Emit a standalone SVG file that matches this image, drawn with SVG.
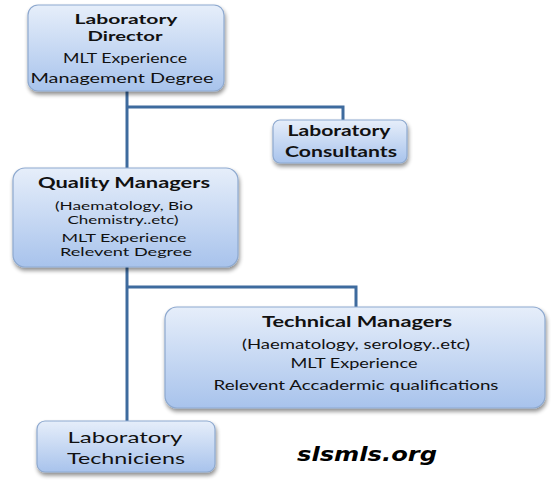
<svg xmlns="http://www.w3.org/2000/svg" width="557" height="482" viewBox="0 0 557 482">
<defs>
<linearGradient id="g" x1="0" y1="0" x2="0" y2="1">
<stop offset="0" stop-color="#e6eefa"/>
<stop offset="1" stop-color="#a8c3ec"/>
</linearGradient>
<filter id="sh" x="-10%" y="-10%" width="130%" height="140%">
<feGaussianBlur in="SourceAlpha" stdDeviation="2"/>
<feOffset dx="1" dy="3"/>
<feComponentTransfer><feFuncA type="linear" slope="0.45"/></feComponentTransfer>
<feMerge><feMergeNode/><feMergeNode in="SourceGraphic"/></feMerge>
</filter>
</defs>
<style>
.box{fill:url(#g);stroke:#8ea9cf;stroke-width:1.2;filter:url(#sh)}
.t{font-family:Lato,"Open Sans",sans-serif;fill:#111;text-anchor:middle}
.b{font-weight:bold;font-size:15px}
.n{font-size:13px}
.s{font-size:11.5px}
.c{stroke:#3e6b9e;stroke-width:3;fill:none}
</style>
<rect width="557" height="482" fill="#ffffff"/>
<g id="connectors">
<path class="c" d="M127 90 V170"/>
<path class="c" d="M127 107 H343 V121"/>
<path class="c" d="M127 267 V421"/>
<path class="c" d="M127 287 H356 V307"/>
</g>
<g id="director">
<rect class="box" x="28" y="5" width="196" height="86" rx="10"/>
<text class="t b" x="126" y="24" style="font-size:14px" textLength="103" lengthAdjust="spacingAndGlyphs">Laboratory</text>
<text class="t b" x="125" y="41" style="font-size:14px" textLength="75" lengthAdjust="spacingAndGlyphs">Director</text>
<text class="t n" x="125" y="63" textLength="124" lengthAdjust="spacingAndGlyphs">MLT Experience</text>
<text class="t n" x="122" y="83" textLength="183" lengthAdjust="spacingAndGlyphs">Management Degree</text>
</g>
<g id="consultants">
<rect class="box" x="273" y="120" width="134" height="43" rx="7"/>
<text class="t b" x="339" y="136" textLength="103" lengthAdjust="spacingAndGlyphs">Laboratory</text>
<text class="t b" x="341" y="157" textLength="112" lengthAdjust="spacingAndGlyphs">Consultants</text>
</g>
<g id="quality">
<rect class="box" x="13" y="168" width="225" height="99" rx="12"/>
<text class="t b" x="124" y="188" textLength="172" lengthAdjust="spacingAndGlyphs">Quality Managers</text>
<text class="t s" x="124" y="210" textLength="138" lengthAdjust="spacingAndGlyphs">(Haematology, Bio</text>
<text class="t s" x="123" y="224" textLength="111" lengthAdjust="spacingAndGlyphs">Chemistry..etc)</text>
<text class="t s" x="124" y="242" textLength="125" lengthAdjust="spacingAndGlyphs">MLT Experience</text>
<text class="t s" x="126" y="256" textLength="132" lengthAdjust="spacingAndGlyphs">Relevent Degree</text>
</g>
<g id="technical">
<rect class="box" x="165" y="307" width="380" height="101" rx="12"/>
<text class="t b" x="357" y="327" textLength="190" lengthAdjust="spacingAndGlyphs">Technical Managers</text>
<text class="t n" x="356" y="349" textLength="228" lengthAdjust="spacingAndGlyphs">(Haematology, serology..etc)</text>
<text class="t n" x="354" y="368" textLength="127" lengthAdjust="spacingAndGlyphs">MLT Experience</text>
<text class="t n" x="356" y="390" textLength="285" lengthAdjust="spacingAndGlyphs">Relevent Accadermic qualifications</text>
</g>
<g id="technicians">
<rect class="box" x="37" y="421" width="178" height="51" rx="8"/>
<text class="t" x="125" y="443" style="font-size:16px" textLength="115" lengthAdjust="spacingAndGlyphs">Laboratory</text>
<text class="t" x="126" y="464" style="font-size:16px" textLength="118" lengthAdjust="spacingAndGlyphs">Techniciens</text>
</g>
<text x="297" y="461" textLength="140" lengthAdjust="spacingAndGlyphs" style="font-family:'DejaVu Sans',sans-serif;font-style:italic;font-weight:bold;font-size:20px;fill:#000">slsmls.org</text>
</svg>
